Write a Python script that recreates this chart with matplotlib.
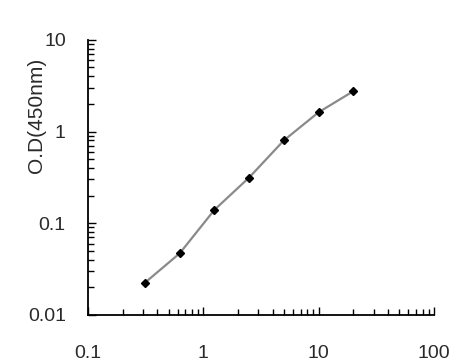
import matplotlib.pyplot as plt
from matplotlib.ticker import LogLocator, FixedLocator, FixedFormatter, NullFormatter

plt.rcParams["font.family"] = ["Liberation Sans", "DejaVu Sans"]

# -- Data -----------------------------------------------------------------------
conc = [0.3125, 0.625, 1.25, 2.5, 5, 10, 20]
od = [0.0225, 0.047, 0.140, 0.315, 0.80, 1.62, 2.75]

x_ticks = [0.1, 1, 10, 100]
x_labels = ["0.1", "1", "10", "100"]
y_ticks = [0.01, 0.1, 1, 10]
y_labels = ["0.01", "0.1", "1", "10"]

TEXT = "#2a2a2a"

fig = plt.figure(figsize=(4.68, 3.62), dpi=100)
ax = fig.add_axes([0.188, 0.130, 0.739, 0.760])

ax.plot(conc, od, color="#8a8a8a", linewidth=1.6, zorder=2)
ax.plot(conc, od, linestyle="none", marker="D", markersize=4,
        color="black", zorder=3)

ax.set_xscale("log")
ax.set_yscale("log")
ax.set_xlim(0.1, 100)
ax.set_ylim(0.01, 10)

ax.xaxis.set_major_locator(FixedLocator(x_ticks))
ax.xaxis.set_major_formatter(FixedFormatter(x_labels))
ax.yaxis.set_major_locator(FixedLocator(y_ticks))
ax.yaxis.set_major_formatter(FixedFormatter(y_labels))
ax.xaxis.set_minor_locator(LogLocator(base=10, subs=range(2, 10)))
ax.yaxis.set_minor_locator(LogLocator(base=10, subs=range(2, 10)))
ax.xaxis.set_minor_formatter(NullFormatter())
ax.yaxis.set_minor_formatter(NullFormatter())

ax.tick_params(axis="both", which="major", direction="in", length=6,
               width=1.0, labelsize=14, labelcolor=TEXT)
ax.tick_params(axis="both", which="minor", direction="in", length=4, width=1.0)
ax.tick_params(axis="x", which="major", pad=22)
ax.tick_params(axis="y", which="major", pad=16)

for side in ("top", "right"):
    ax.spines[side].set_visible(False)
for side in ("left", "bottom"):
    ax.spines[side].set_linewidth(1.3)

# y label sits high, beside the upper decades
ax.set_ylabel("O.D(450nm)", fontsize=15, color=TEXT)
ax.yaxis.set_label_coords(-0.121, 0.727)

fig.savefig("out.png", dpi=100)
